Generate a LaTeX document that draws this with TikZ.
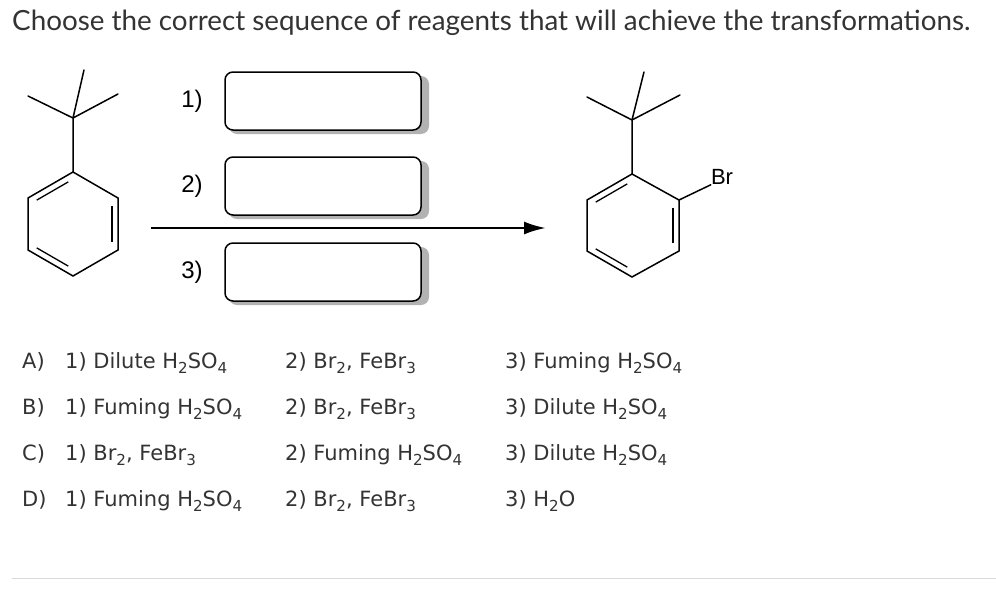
\documentclass[tikz,border=0pt]{standalone}
\usepackage{fontspec}
\usetikzlibrary{calc,arrows.meta}
\setmainfont{Lato}
\newfontfamily\ansfont{DejaVu Sans}
\newfontfamily\molfont{Liberation Sans}
\newcommand{\sbs}[1]{\raisebox{-0.28em}{\scalebox{0.72}{#1}}}
\definecolor{txt}{HTML}{333333}
\tikzset{bond/.style={line width=1.5pt,line cap=round},
 inb/.style={line width=1.3pt},
 rbox/.style={draw,line width=1.5pt,rounded corners=8pt,fill=white},
 shad/.style={fill=black!30,rounded corners=8pt},
 ans/.style={anchor=base west,inner sep=0pt,text=txt,font=\ansfont\fontsize{21}{24}\selectfont},
 lab/.style={anchor=center,inner sep=0pt,font=\molfont\fontsize{24}{28}\selectfont}}
\begin{document}
\begin{tikzpicture}[x=1pt,y=-1pt]
\useasboundingbox (0,0) rectangle (996,592);
\node[anchor=base west,inner sep=0pt,text=txt,font=\fontsize{27.8}{32}\selectfont] (title) at (12,30) {Choose the correct sequence of reagents that will achieve the transformations.};
% left molecule
\coordinate (q1) at (73,118);
\coordinate (m1a) at (84,70); \coordinate (m1b) at (28,96); \coordinate (m1c) at (118,94);
\coordinate (a1) at (73,172); \coordinate (a2) at (118,198); \coordinate (a3) at (118,250);
\coordinate (a4) at (73,276); \coordinate (a5) at (28,250); \coordinate (a6) at (28,198);
\draw[bond] (q1)--(m1a) (q1)--(m1b) (q1)--(m1c) (q1)--(a1);
\draw[bond] (a1)--(a2)--(a3)--(a4)--(a5)--(a6)--cycle;
\draw[inb] ($(a1)!0.15!(a6)+(2,6)$)--($(a1)!0.85!(a6)+(2,6)$);
\draw[inb] ($(a2)!0.15!(a3)+(-6,0)$)--($(a2)!0.85!(a3)+(-6,0)$);
\draw[inb] ($(a4)!0.15!(a5)+(2,-6)$)--($(a4)!0.85!(a5)+(2,-6)$);
% right molecule
\coordinate (q2) at (632,120);
\coordinate (m2a) at (644,72); \coordinate (m2b) at (587,97); \coordinate (m2c) at (680,95);
\coordinate (b1) at (632,174); \coordinate (b2) at (679,200); \coordinate (b3) at (679,251);
\coordinate (b4) at (632,277); \coordinate (b5) at (587,251); \coordinate (b6) at (587,200);
\draw[bond] (q2)--(m2a) (q2)--(m2b) (q2)--(m2c) (q2)--(b1);
\draw[bond] (b1)--(b2)--(b3)--(b4)--(b5)--(b6)--cycle;
\node[lab,font=\molfont\fontsize{22}{26}\selectfont] (br) at (722,177) {Br};
\draw[bond] (b2)--(br.south west);
\draw[inb] ($(b1)!0.15!(b6)+(2,6)$)--($(b1)!0.85!(b6)+(2,6)$);
\draw[inb] ($(b2)!0.15!(b3)+(-6,0)$)--($(b2)!0.85!(b3)+(-6,0)$);
\draw[inb] ($(b4)!0.15!(b5)+(2,-6)$)--($(b4)!0.85!(b5)+(2,-6)$);
% boxes
\foreach \i/\y in {1/72,2/157,3/243}{
 \fill[shad] (229,\y+4) rectangle (429,\y+62);
 \draw[rbox] (225,\y) rectangle (421,\y+58);
 \node[lab] (l\i) at (192,\y+29) {\i)};
}
\coordinate (arrs) at (151,228); \coordinate (arre) at (546,228);
\draw[line width=2.6pt,-{Latex[length=22pt,width=13pt]}] (arrs)--(arre);
% answers
\node[ans] (A0) at (22,368) {A)}; \node[ans] (A1) at (65,368) {1) Dilute H\sbs{2}SO\sbs{4}};
\node[ans] (A2) at (285,368) {2) Br\sbs{2}, FeBr\sbs{3}}; \node[ans] (A3) at (505,368) {3) Fuming H\sbs{2}SO\sbs{4}};
\node[ans] (B0) at (22,414) {B)}; \node[ans] (B1) at (65,414) {1) Fuming H\sbs{2}SO\sbs{4}};
\node[ans] (B2) at (285,414) {2) Br\sbs{2}, FeBr\sbs{3}}; \node[ans] (B3) at (505,414) {3) Dilute H\sbs{2}SO\sbs{4}};
\node[ans] (C0) at (22,460) {C)}; \node[ans] (C1) at (65,460) {1) Br\sbs{2}, FeBr\sbs{3}};
\node[ans] (C2) at (285,460) {2) Fuming H\sbs{2}SO\sbs{4}}; \node[ans] (C3) at (505,460) {3) Dilute H\sbs{2}SO\sbs{4}};
\node[ans] (D0) at (22,506) {D)}; \node[ans] (D1) at (65,506) {1) Fuming H\sbs{2}SO\sbs{4}};
\node[ans] (D2) at (285,506) {2) Br\sbs{2}, FeBr\sbs{3}}; \node[ans] (D3) at (505,506) {3) H\sbs{2}O};
\draw[black!15,line width=1pt] (12,578)--(996,578);
\end{tikzpicture}
\end{document}
